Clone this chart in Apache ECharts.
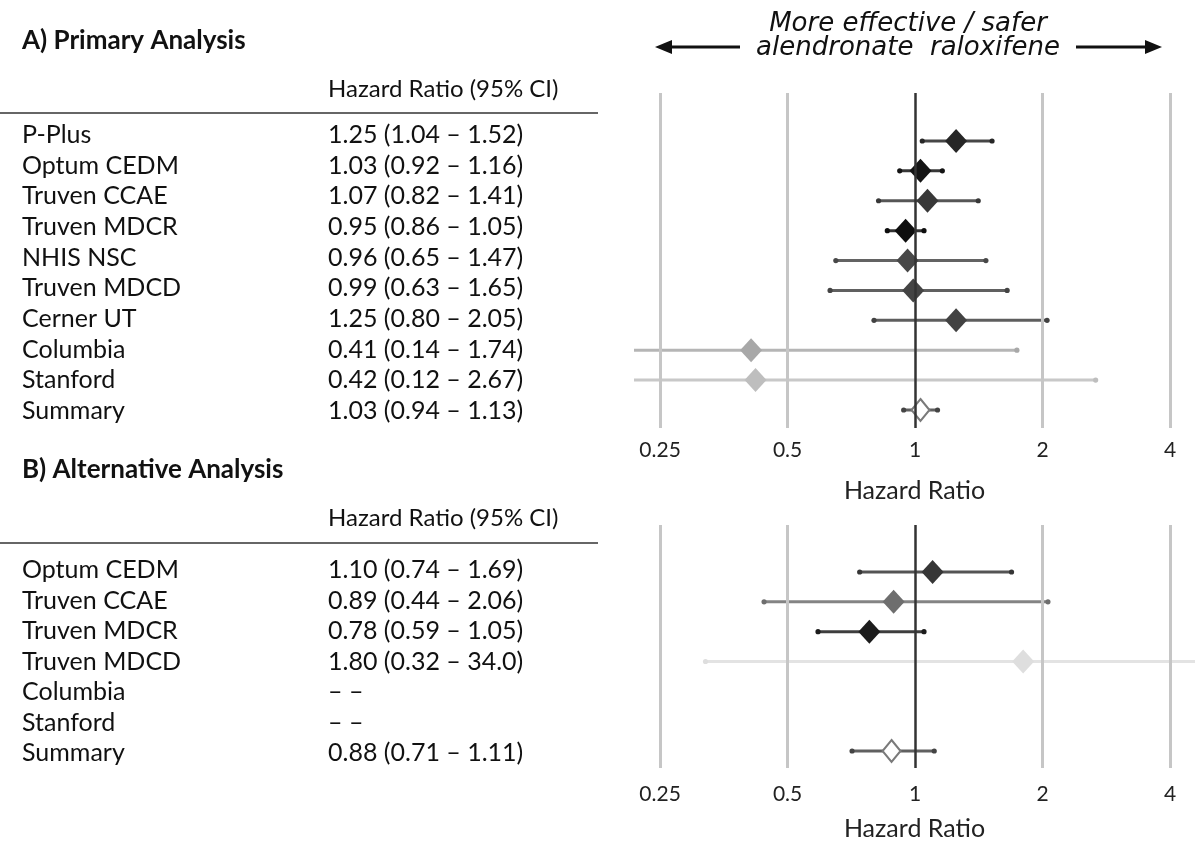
<!DOCTYPE html>
<html><head><meta charset="utf-8">
<script src="https://cdn.jsdelivr.net/npm/echarts@6/dist/echarts.min.js"></script>
<style>html,body{margin:0;padding:0;background:#fff}#c{width:1200px;height:843px}</style>
</head><body><div id="c"></div>
<script>
// ---------- data ----------
const primaryNames = ['P-Plus','Optum CEDM','Truven CCAE','Truven MDCR','NHIS NSC','Truven MDCD','Cerner UT','Columbia','Stanford','Summary'];
const primaryHR   = [1.25, 1.03, 1.07, 0.95, 0.96, 0.99, 1.25, 0.41, 0.42, 1.03];
const primaryLow  = [1.04, 0.92, 0.82, 0.86, 0.65, 0.63, 0.80, 0.14, 0.12, 0.94];
const primaryHigh = [1.52, 1.16, 1.41, 1.05, 1.47, 1.65, 2.05, 1.74, 2.67, 1.13];

const altNames = ['Optum CEDM','Truven CCAE','Truven MDCR','Truven MDCD','Columbia','Stanford','Summary'];
const altHR   = [1.10, 0.89, 0.78, 1.80, null, null, 0.88];
const altLow  = [0.74, 0.44, 0.59, 0.32, null, null, 0.71];
const altHigh = [1.69, 2.06, 1.05, 34.0, null, null, 1.11];

const hrTicks = [0.25, 0.5, 1, 2, 4];

// ---------- styles (kept apart from data) ----------
const primaryShade = ['#262626','#141414','#383838','#0e0e0e','#484848','#444444','#424242','#a8a8a8','#bebebe','hollow'];
const altShade     = ['#363636','#6e6e6e','#1c1c1c','#dedede', null, null,'hollow'];

const FONT = 'Lato';
const fmt = v => v >= 10 ? v.toFixed(1) : v.toFixed(2);
function ciLabels(hr, lo, hi){
  return hr.map((h,i) => h == null ? '\u2013 \u2013' : fmt(h) + ' (' + fmt(lo[i]) + ' \u2013 ' + fmt(hi[i]) + ')');
}
function forestData(hr, lo, hi){
  const out = [];
  hr.forEach((h,i) => { if (h != null) out.push([h, i, lo[i], hi[i]]); });
  return out;
}
function makeRender(shades){
  return function(params, api){
    const hr = api.value(0), row = api.value(1), lo = api.value(2), hi = api.value(3);
    const cs = params.coordSys;
    const c = api.coord([hr, row]);
    const pl = api.coord([lo, row]);
    const ph = api.coord([hi, row]);
    const shade = shades[row];
    const hollow = shade === 'hollow';
    const col = hollow ? '#444' : shade;
    const x1 = Math.max(pl[0], cs.x), x2 = Math.min(ph[0], cs.x + cs.width);
    const kids = [{
      type:'line', shape:{x1:x1, y1:c[1], x2:x2, y2:c[1]},
      style:{stroke:col, lineWidth:3, opacity:0.85}
    }];
    if (pl[0] >= cs.x) kids.push({type:'circle', shape:{cx:pl[0], cy:c[1], r:2.6}, style:{fill:col}});
    if (ph[0] <= cs.x + cs.width) kids.push({type:'circle', shape:{cx:ph[0], cy:c[1], r:2.6}, style:{fill:col}});
    const w = hollow ? 9 : 11, h = hollow ? 11 : 12;
    kids.push({
      type:'polygon', z2:5,
      shape:{points:[[c[0], c[1]-h],[c[0]+w, c[1]],[c[0], c[1]+h],[c[0]-w, c[1]]]},
      style: hollow ? {fill:'#fff', stroke:'#7a7a7a', lineWidth:2} : {fill:shade}
    });
    return {type:'group', children:kids};
  };
}
const gridLineData = hrTicks.map(t => ({
  xAxis: t,
  lineStyle: t === 1 ? {color:'#333', width:2.5, type:'solid'} : {color:'#c6c6c6', width:3, type:'solid'}
}));

function hrAxis(gridIndex, labelMargin, nameGap){
  return {
    type:'log', logBase:2, gridIndex:gridIndex, min:0.2169, max:4.583,
    axisLine:{show:false}, axisTick:{show:false}, splitLine:{show:false},
    axisLabel:{
      color:'#222', fontSize:21, fontFamily:FONT, margin:labelMargin,
      formatter: v => hrTicks.some(t => Math.abs(t - v) < 1e-6) ? String(+v.toFixed(2)) : ''
    },
    name:'Hazard Ratio', nameLocation:'middle', nameGap:nameGap,
    nameTextStyle:{color:'#222', fontSize:25, fontFamily:FONT}
  };
}
function hiddenX(gridIndex){
  return {type:'value', gridIndex:gridIndex, show:false, min:0, max:1};
}
function tableY(gridIndex, labels){
  return {
    type:'category', gridIndex:gridIndex, inverse:true, data:labels,
    axisLine:{show:false}, axisTick:{show:false}, splitLine:{show:false},
    axisLabel:{inside:true, margin:0, interval:0, color:'#111', fontSize:25, fontFamily:FONT, align:'left'}
  };
}

const option = {
  animation:false,
  backgroundColor:'#fff',
  grid:[
    {left:634, right:5, top:93, height:335},
    {left:634, right:5, top:525, height:243},
    {left:22, width:290, top:119.7, height:306.7},
    {left:328, width:272, top:119.7, height:306.7},
    {left:22, width:290, top:554.75, height:213.5},
    {left:328, width:272, top:554.75, height:213.5}
  ],
  xAxis:[hrAxis(0, 12, 50), hrAxis(1, 16, 48), hiddenX(2), hiddenX(3), hiddenX(4), hiddenX(5)],
  yAxis:[
    {type:'value', gridIndex:0, inverse:true, min:-1.605, max:9.602, show:false},
    {type:'value', gridIndex:1, inverse:true, min:-1.576, max:6.570, show:false},
    tableY(2, primaryNames),
    tableY(3, ciLabels(primaryHR, primaryLow, primaryHigh)),
    tableY(4, altNames),
    tableY(5, ciLabels(altHR, altLow, altHigh))
  ],
  series:[
    {type:'scatter', xAxisIndex:0, yAxisIndex:0, data:[], z:1, silent:true,
     markLine:{silent:true, symbol:['none','none'], label:{show:false}, data:gridLineData}},
    {type:'scatter', xAxisIndex:1, yAxisIndex:1, data:[], z:1, silent:true,
     markLine:{silent:true, symbol:['none','none'], label:{show:false}, data:gridLineData}},
    {type:'custom', xAxisIndex:0, yAxisIndex:0, z:3, renderItem:makeRender(primaryShade),
     data:forestData(primaryHR, primaryLow, primaryHigh)},
    {type:'custom', xAxisIndex:1, yAxisIndex:1, z:3, renderItem:makeRender(altShade),
     data:forestData(altHR, altLow, altHigh)}
  ],
  graphic:[
    {type:'text', left:22, top:28, style:{text:'A) Primary Analysis', font:'bold 26px Lato', fill:'#111'}},
    {type:'text', left:328, top:77, style:{text:'Hazard Ratio (95% CI)', font:'24px Lato', fill:'#111'}},
    {type:'line', shape:{x1:0, y1:113, x2:598, y2:113}, style:{stroke:'#333', lineWidth:1.5}},
    {type:'text', left:22, top:457, style:{text:'B) Alternative Analysis', font:'bold 26px Lato', fill:'#111'}},
    {type:'text', left:328, top:506, style:{text:'Hazard Ratio (95% CI)', font:'24px Lato', fill:'#111'}},
    {type:'line', shape:{x1:0, y1:543, x2:598, y2:543}, style:{stroke:'#333', lineWidth:1.5}},
    {type:'text', x:908, y:24, style:{text:'More effective / safer', font:'oblique 26px "DejaVu Sans"', fill:'#111', textAlign:'center', textVerticalAlign:'middle'}},
    {type:'text', x:908, y:48, style:{text:'alendronate  raloxifene', font:'oblique 26px "DejaVu Sans"', fill:'#111', textAlign:'center', textVerticalAlign:'middle'}},
    {type:'line', shape:{x1:668, y1:47, x2:740, y2:47}, style:{stroke:'#111', lineWidth:3}},
    {type:'polygon', shape:{points:[[655,47],[672,40],[672,54]]}, style:{fill:'#111'}},
    {type:'line', shape:{x1:1076, y1:47, x2:1148, y2:47}, style:{stroke:'#111', lineWidth:3}},
    {type:'polygon', shape:{points:[[1162,47],[1145,40],[1145,54]]}, style:{fill:'#111'}}
  ]
};
const chart = echarts.init(document.getElementById('c'));
chart.setOption(option);
</script>
</body></html>
